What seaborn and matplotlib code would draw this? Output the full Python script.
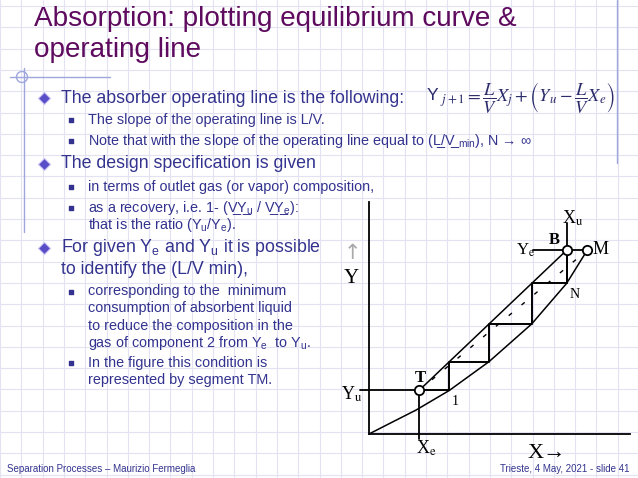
import numpy as np
import pandas as pd
import matplotlib
matplotlib.use("Agg")
import matplotlib.pyplot as plt
import seaborn as sns

# equilibrium curve (axis units 0..1)
eq_x = [0.0, 0.08, 0.18, 0.308, 0.46, 0.623, 0.757, 0.836]
eq_y = [0.0, 0.046, 0.103, 0.188, 0.312, 0.474, 0.649, 0.792]

# operating line T -> B
op_x = [0.192, 0.757]
op_y = [0.188, 0.792]

# minimum L/V line T -> M
min_x = [0.192, 0.836]
min_y = [0.188, 0.792]

# stage steps between operating line and equilibrium curve
stage_x = [0.192, 0.308, 0.308, 0.46, 0.46, 0.623, 0.623, 0.757, 0.757]
stage_y = [0.188, 0.188, 0.312, 0.312, 0.474, 0.474, 0.649, 0.649, 0.792]

point_names = ["T", "B", "M"]
point_x = [0.192, 0.757, 0.836]
point_y = [0.188, 0.792, 0.792]

title_lines = ["Absorption: plotting equilibrium curve &", "operating line"]
footer_left = "Separation Processes \u2013 Maurizio Fermeglia"
footer_right = "Trieste, 4 May, 2021 - slide 41"

TITLE_C = "#5e0a5e"
TEXT_C = "#33338f"
GRID_C = "#e2e2f2"
DECO_C = "#9fa6dc"

sns.set_theme(style="white")
plt.rcParams["font.family"] = ["Liberation Sans", "DejaVu Sans"]
plt.rcParams["mathtext.fontset"] = "custom"
plt.rcParams["mathtext.rm"] = "Liberation Sans"
plt.rcParams["mathtext.it"] = "Liberation Sans:italic"

fig = plt.figure(figsize=(6.38, 4.78), dpi=100)
bg = fig.add_axes([0, 0, 1, 1])
bg.set_xlim(0, 638)
bg.set_ylim(478, 0)
bg.axis("off")

# slide background grid
for gx in np.arange(0, 640, 21.3):
    bg.axvline(gx, color=GRID_C, lw=0.8, zorder=0)
for gy in np.arange(6, 480, 21.3):
    bg.axhline(gy, color=GRID_C, lw=0.8, zorder=0)

# decorative lines
bg.plot([10, 110], [77, 77], color=DECO_C, lw=1)
bg.plot([24, 24], [68, 232], color=DECO_C, lw=1)
bg.plot([617, 617], [0, 163], color=DECO_C, lw=1)
bg.add_patch(plt.Circle((22, 77), 5.5, fill=False, ec=DECO_C, lw=1))

# title
bg.text(34, 19, title_lines[0], fontsize=20.1, color=TITLE_C, va="center")
bg.text(34, 50, title_lines[1], fontsize=20.1, color=TITLE_C, va="center")

def diamond(y):
    bg.scatter([44], [y], marker="D", s=38, color="#5a4ec8", edgecolor="#c9c4f2", lw=0.8, zorder=3)

def square(y):
    bg.scatter([71], [y], marker="s", s=7, color=TEXT_C, zorder=3)

main_fs = 12.8
sub_fs = 10.4

diamond(98)
bg.text(61, 98, "The absorber operating line is the following:", fontsize=main_fs, color=TEXT_C, va="center")
# operating line equation
bg.text(427, 95, "Y", fontsize=12.5, color="#2c2c6c", va="center")
bg.text(440, 97,
        r"${}_{j+1} = \dfrac{L}{V}X_j + \left(Y_u - \dfrac{L}{V}X_e\right)$",
        fontsize=13.2, color="#2c2c6c", va="center", math_fontfamily="stix")

square(120)
bg.text(88, 120, "The slope of the operating line is L/V.", fontsize=sub_fs, color=TEXT_C, va="center")
square(141)
bg.text(88, 141, "Note that with the slope of the operating line equal to (L\u0332/V\u0332 $_\\mathrm{min}$), N \u2192 \u221e",
        fontsize=sub_fs, color=TEXT_C, va="center")

diamond(164)
bg.text(61, 164, "The design specification is given", fontsize=main_fs, color=TEXT_C, va="center")
square(187)
bg.text(88, 187, "in terms of outlet gas (or vapor) composition,", fontsize=sub_fs, color=TEXT_C, va="center")
square(208)
bg.text(88, 208, "as a recovery, i.e. 1- (V\u0332Y\u0332$_\\mathrm{u}$ / V\u0332Y\u0332$_\\mathrm{e}$):",
        fontsize=sub_fs, color=TEXT_C, va="center")
bg.text(88, 225, "that is the ratio (Y$_\\mathrm{u}$/Y$_\\mathrm{e}$).", fontsize=sub_fs, color=TEXT_C, va="center")

diamond(248)
bg.text(61, 248, "For given Y$_\\mathrm{e}$ and Y$_\\mathrm{u}$ it is possible", fontsize=main_fs, color=TEXT_C, va="center")
bg.text(61, 269, "to identify the (L/V min),", fontsize=main_fs, color=TEXT_C, va="center")
square(292)
sub_lines = ["corresponding to the  minimum",
             "consumption of absorbent liquid",
             "to reduce the composition in the",
             "gas of component 2 from Y$_\\mathrm{e}$  to Y$_\\mathrm{u}$."]
for i, s in enumerate(sub_lines):
    bg.text(88, 291 + i * 17.3, s, fontsize=sub_fs, color=TEXT_C, va="center")
square(363)
bg.text(88, 363, "In the figure this condition is", fontsize=sub_fs, color=TEXT_C, va="center")
bg.text(88, 380, "represented by segment TM.", fontsize=sub_fs, color=TEXT_C, va="center")

bg.text(7, 469, footer_left, fontsize=7, color=TEXT_C, va="center")
bg.text(630, 469, footer_right, fontsize=7, color=TEXT_C, va="center", ha="right")

# ---- diagram ----
W, H = 638, 478
ax = fig.add_axes([369 / W, 1 - 434 / H, (630 - 369) / W, (434 - 202) / H])
ax.patch.set_alpha(0)
ax.set_xlim(0, 1)
ax.set_ylim(0, 1)
ax.set_xticks([])
ax.set_yticks([])
for side in ["top", "right"]:
    ax.spines[side].set_visible(False)
for side in ["left", "bottom"]:
    ax.spines[side].set_color("black")
    ax.spines[side].set_linewidth(1.3)

sns.lineplot(x=eq_x, y=eq_y, ax=ax, color="black", lw=1.1, sort=False, estimator=None)
sns.lineplot(x=op_x, y=op_y, ax=ax, color="black", lw=1.1, sort=False, estimator=None)
sns.lineplot(x=stage_x, y=stage_y, ax=ax, color="black", lw=1.4, sort=False, estimator=None)
ax.plot(min_x, min_y, color="black", lw=1.0, linestyle=(0, (3, 9)))

# construction lines for Yu, Xe, Ye, Xu
ax.plot([-0.034, point_x[0]], [point_y[0], point_y[0]], color="black", lw=1.3, clip_on=False)
ax.plot([point_x[0], point_x[0]], [point_y[0], -0.02], color="black", lw=1.3, clip_on=False)
ax.plot([0.63, point_x[2]], [point_y[1], point_y[1]], color="black", lw=1.3, clip_on=False)
ax.plot([point_x[1], point_x[1]], [0.649, 0.91], color="black", lw=1.3, clip_on=False)

pts = pd.DataFrame({"name": point_names, "x": point_x, "y": point_y})
sns.scatterplot(data=pts, x="x", y="y", ax=ax, s=45, color="white", edgecolor="black",
                linewidth=1.3, zorder=5, clip_on=False)

ax.set_xlabel("")
ax.set_ylabel("")

serif = ["Liberation Serif", "DejaVu Serif"]
lab = dict(color="black", family=serif, math_fontfamily="stix", clip_on=False)
ax.text(0.74, 0.93, r"X$_{\mathrm{u}}$", fontsize=13, ha="left", va="center", **lab)
ax.text(0.71, 0.835, "B", fontsize=12, fontweight="bold", ha="center", va="center", **lab)
ax.text(0.60, 0.79, r"Y$_{\mathrm{e}}$", fontsize=12, ha="center", va="center", **lab)
ax.text(0.855, 0.795, "M", fontsize=13, ha="left", va="center", **lab)
ax.text(0.77, 0.60, "N", fontsize=10, ha="left", va="center", **lab)
ax.text(0.195, 0.24, "T", fontsize=12, fontweight="bold", ha="center", va="center", **lab)
ax.text(-0.065, 0.17, r"Y$_{\mathrm{u}}$", fontsize=13, ha="center", va="center", **lab)
ax.text(0.33, 0.14, "1", fontsize=10, ha="center", va="center", **lab)
ax.text(0.22, -0.06, r"X$_{\mathrm{e}}$", fontsize=13, ha="center", va="center", **lab)
ax.text(0.68, -0.085, "X\u2192", fontsize=16, ha="center", va="center", **lab)
ax.text(-0.068, 0.67, "Y", fontsize=15, ha="center", va="center", **lab)
ax.text(-0.065, 0.78, "\u2191", fontsize=15, ha="center", va="center", color="#aaaaaa",
        family=["DejaVu Sans"], clip_on=False)

fig.savefig("out.png", dpi=100)
